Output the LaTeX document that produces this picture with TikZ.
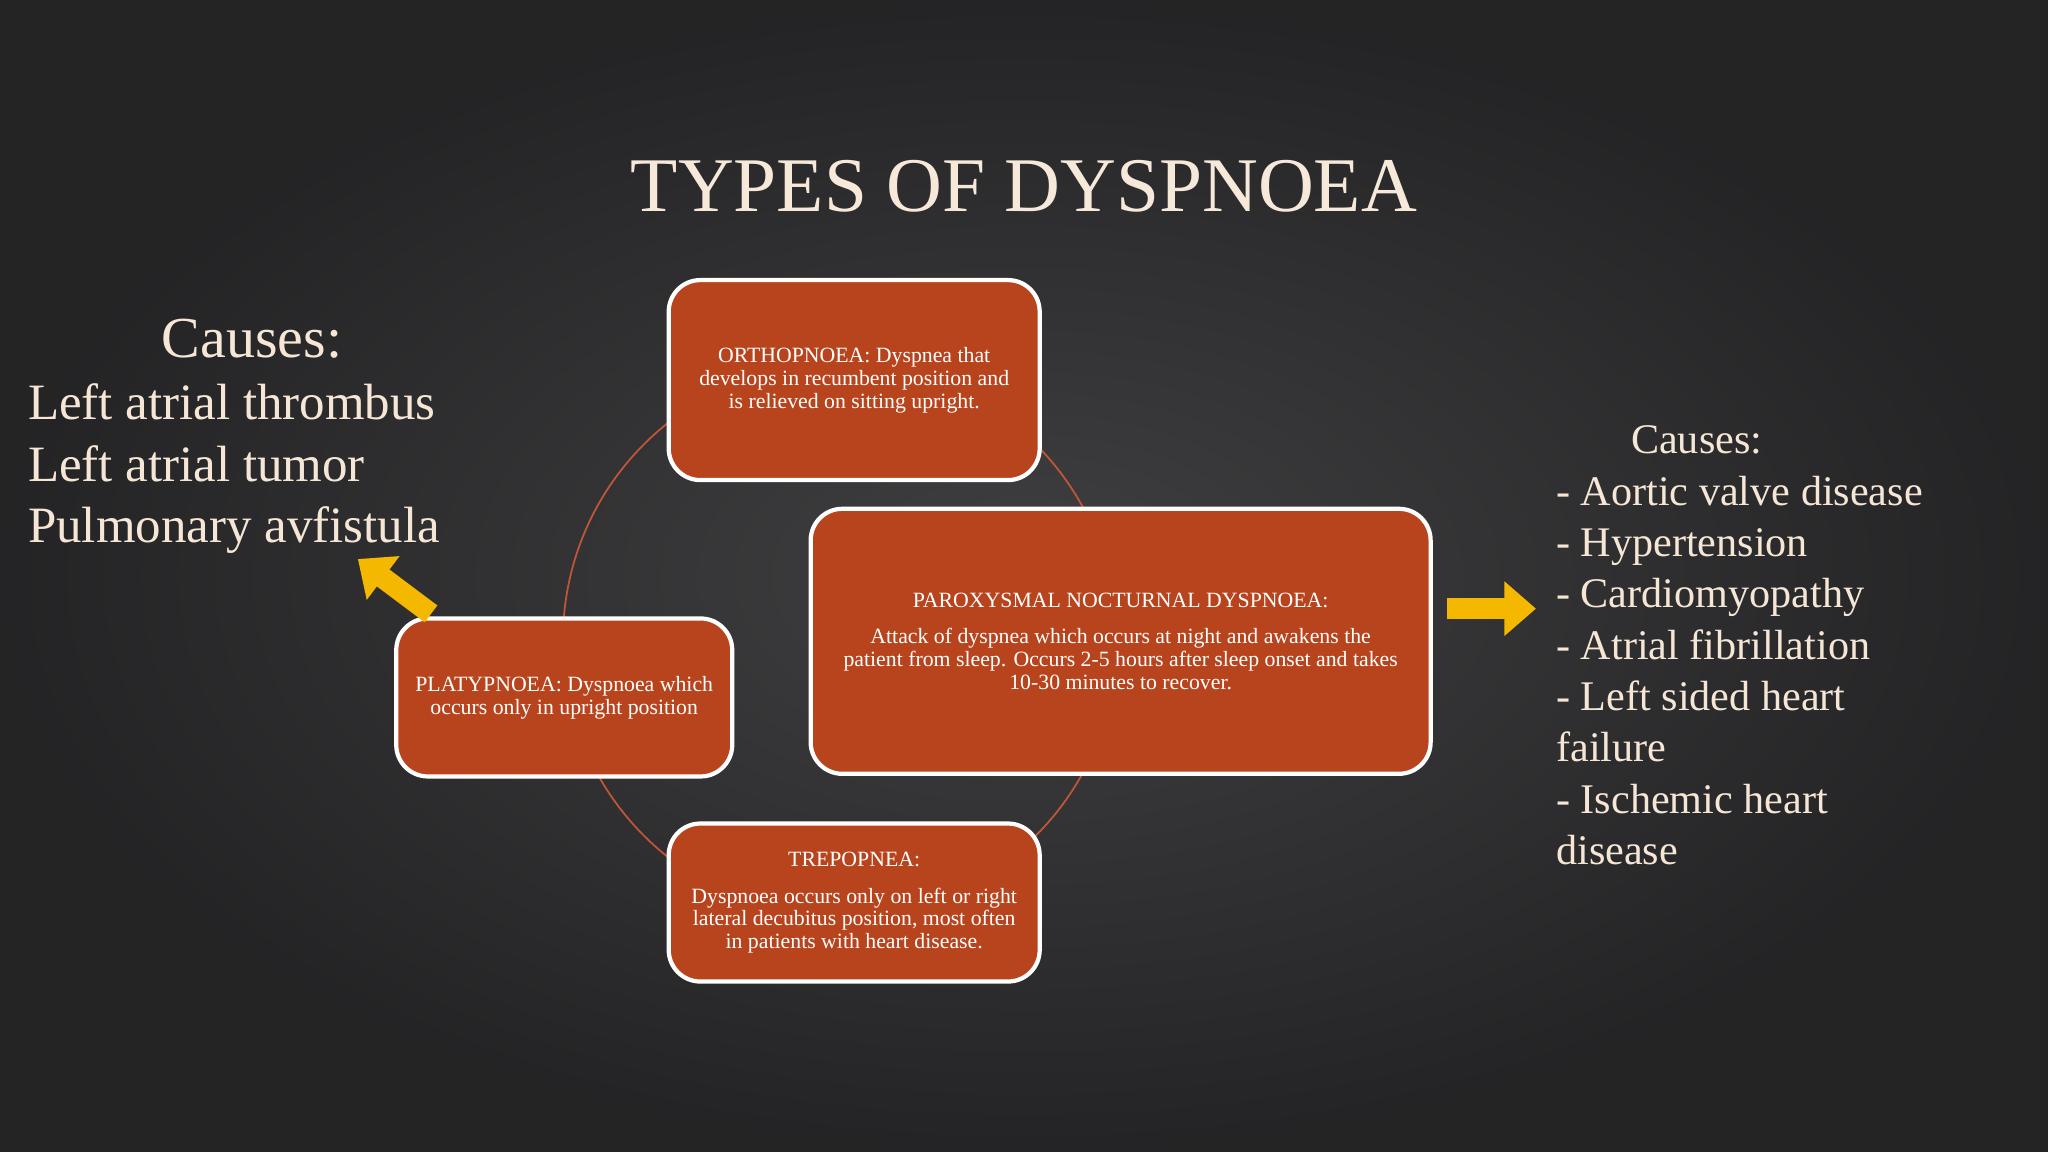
\documentclass[tikz,border=0pt]{standalone}
\usepackage{fontspec}
\setmainfont{Liberation Serif}
\usetikzlibrary{arrows.meta}
\definecolor{bg}{HTML}{2A2A2C}
\definecolor{boxc}{HTML}{B8441E}
\definecolor{peach}{HTML}{F6E6D6}
\definecolor{gold}{HTML}{F5B800}
\tikzset{
  typebox/.style={draw=white, line width=1.2pt, fill=boxc, rounded corners=9pt, text=white, align=center, font=\fontsize{6.2}{6.5}\selectfont, inner sep=2pt},
  glowtext/.style={text=peach, align=left},
  yarrow/.style={-{Triangle[length=9pt,width=15pt]}, line width=6pt, draw=gold}
}
\begin{document}
\begin{tikzpicture}[x=0.01306cm,y=-0.01306cm]
\path[use as bounding box, shading=radial, inner color=bg!90!white, outer color=bg!85!black] (0,0) rectangle (1568,882);
\node[text=peach!90!white, font=\fontsize{22}{26}\selectfont] (title) at (784,143) {TYPES OF DYSPNOEA};
\draw[boxc!90!white, line width=0.5pt] (643,490) circle (212);
\node[typebox, minimum width=3.71cm, minimum height=2.0cm] (ortho) at (654,291) {ORTHOPNOEA: Dyspnea that\\develops in recumbent position and\\is relieved on sitting upright.};
\node[typebox, minimum width=6.2cm, minimum height=2.65cm] (pnd) at (858,491) {PAROXYSMAL NOCTURNAL DYSPNOEA:\\[4pt]Attack of dyspnea which occurs at night and awakens the\\patient from sleep. Occurs 2-5 hours after sleep onset and takes\\10-30 minutes to recover.};
\node[typebox, minimum width=3.36cm, minimum height=1.58cm] (platy) at (432,534) {PLATYPNOEA: Dyspnoea which\\occurs only in upright position};
\node[typebox, minimum width=3.71cm, minimum height=1.58cm] (trep) at (654,691) {TREPOPNEA:\\[4pt]Dyspnoea occurs only on left or right\\lateral decubitus position, most often\\in patients with heart disease.};
\node[text=peach, font=\fontsize{16.5}{19}\selectfont] (lc) at (193,259) {Causes:};
\node[glowtext, anchor=north west, font=\fontsize{14.5}{17.6}\selectfont] (ll) at (12,284) {Left atrial thrombus\\Left atrial tumor\\Pulmonary avfistula};
\node[text=peach, font=\fontsize{12}{14.5}\selectfont] (rc) at (1299,337) {Causes:};
\node[glowtext, anchor=north west, font=\fontsize{12}{14.6}\selectfont] (rl) at (1182,355) {- Aortic valve disease\\- Hypertension\\- Cardiomyopathy\\- Atrial fibrillation\\- Left sided heart\\failure\\- Ischemic heart\\disease};
\coordinate (a1s) at (330,470);
\coordinate (a1e) at (274,428);
\coordinate (a2s) at (1108,466);
\coordinate (a2e) at (1176,466);
\draw[yarrow] (a1s) -- (a1e);
\draw[yarrow] (a2s) -- (a2e);
\end{tikzpicture}
\end{document}
